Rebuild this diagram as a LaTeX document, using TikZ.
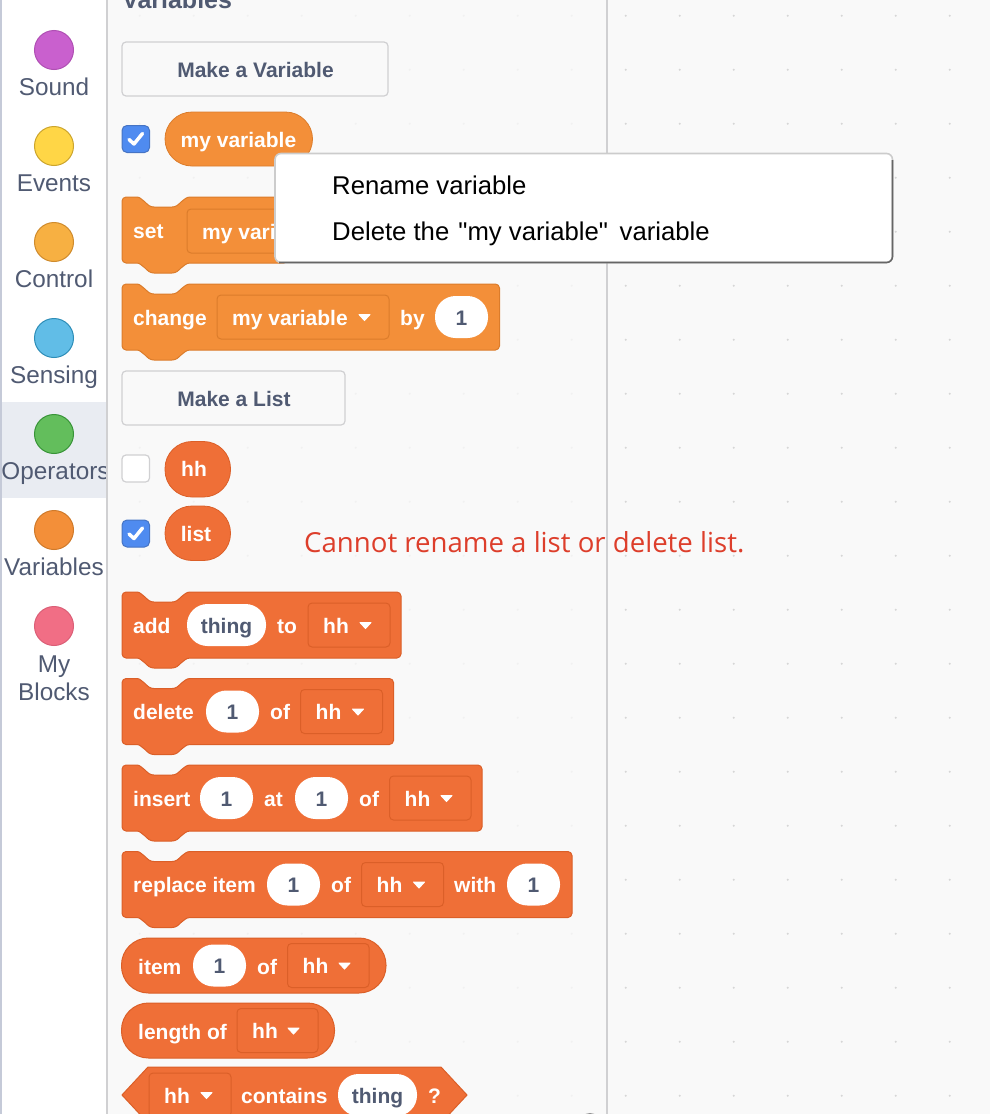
\documentclass[tikz,border=0pt]{standalone}
\usepackage{fontspec}
\setmainfont{Liberation Sans}
\newfontfamily\notefont{Open Sans}
\newfontfamily\menufont{Liberation Sans}
\definecolor{panelbg}{HTML}{F9F9F9}
\definecolor{rulegray}{HTML}{D0D0D2}
\definecolor{sideedge}{HTML}{C5CAD8}
\definecolor{selbg}{HTML}{E9ECF2}
\definecolor{inktext}{HTML}{505A72}
\definecolor{varfill}{HTML}{F38F39}
\definecolor{varline}{HTML}{DB7C2B}
\definecolor{listfill}{HTML}{EF6F37}
\definecolor{listline}{HTML}{DB5F28}
\definecolor{checkblue}{HTML}{4F8BF0}
\definecolor{checkline}{HTML}{4674C4}
\definecolor{redtext}{HTML}{DD3E2B}
\definecolor{gridgray}{HTML}{D6D6D6}
\definecolor{gridfaint}{HTML}{F1F1F1}
\definecolor{soundf}{HTML}{C960CE}
\definecolor{soundd}{HTML}{B050B4}
\definecolor{eventf}{HTML}{FFD646}
\definecolor{eventd}{HTML}{CCA52D}
\definecolor{ctrlf}{HTML}{F7B042}
\definecolor{ctrld}{HTML}{CF8B2D}
\definecolor{sensf}{HTML}{61BDE7}
\definecolor{sensd}{HTML}{2E8EB8}
\definecolor{operf}{HTML}{63BE5C}
\definecolor{operd}{HTML}{389438}
\definecolor{varsf}{HTML}{F38F39}
\definecolor{varsd}{HTML}{CF7A2B}
\definecolor{myblf}{HTML}{F16E85}
\definecolor{mybld}{HTML}{DB5F77}
\newcommand{\stackpath}[3]{% x, y, right
  (#1+4,#2) -- (#1+15,#2) .. controls (#1+18,#2) and (#1+20,#2+3) .. (#1+23,#2+5)
  .. controls (#1+26,#2+8) and (#1+28,#2+10) .. (#1+32,#2+10)
  -- (#1+50,#2+10) .. controls (#1+54,#2+10) and (#1+56,#2+8) .. (#1+59,#2+5)
  .. controls (#1+62,#2+3) and (#1+64,#2) .. (#1+68,#2)
  -- (#3-4,#2) .. controls (#3-2,#2) and (#3,#2+2) .. (#3,#2+4)
  -- (#3,#2+62) .. controls (#3,#2+64) and (#3-2,#2+66) .. (#3-4,#2+66)
  -- (#1+68,#2+66) .. controls (#1+64,#2+66) and (#1+62,#2+69) .. (#1+59,#2+71)
  .. controls (#1+56,#2+74) and (#1+54,#2+76) .. (#1+50,#2+76)
  -- (#1+32,#2+76) .. controls (#1+28,#2+76) and (#1+26,#2+74) .. (#1+23,#2+71)
  .. controls (#1+20,#2+69) and (#1+18,#2+66) .. (#1+15,#2+66)
  -- (#1+4,#2+66) .. controls (#1+2,#2+66) and (#1,#2+64) .. (#1,#2+62)
  -- (#1,#2+4) .. controls (#1,#2+2) and (#1+2,#2) .. (#1+4,#2) -- cycle}
\tikzset{
  x=1pt,y=-1pt,
  sidelabel/.style={font=\fontsize{24.3}{28}\selectfont,text=inktext,inner sep=0pt,anchor=base},
  sidedot/.style={circle,minimum size=39pt,inner sep=0pt,line width=1pt},
  bw/.style={font=\fontsize{21}{24}\bfseries\selectfont,text=white,inner sep=0pt,anchor=base west},
  bwc/.style={font=\fontsize{21}{24}\bfseries\selectfont,text=white,inner sep=0pt,anchor=base},
  ib/.style={font=\fontsize{21}{24}\bfseries\selectfont,text=inktext,inner sep=0pt,anchor=base},
  vstack/.style={fill=varfill,draw=varline,line width=1pt},
  lstack/.style={fill=listfill,draw=listline,line width=1pt},
  vdrop/.style={fill=varfill,draw=varline,line width=1pt,rounded corners=4pt},
  ldrop/.style={fill=listfill,draw=listline,line width=1pt,rounded corners=4pt},
  btn/.style={fill=panelbg,draw=rulegray,line width=1.2pt,rounded corners=4pt},
  tri/.style={fill=white,draw=white,line width=1pt,line join=round},
  griddot/.style={fill=gridgray},
  chk/.style={draw=white,line width=3.5pt,line cap=round,line join=round},
  checkon/.style={draw=checkline,fill=checkblue,line width=1pt,rounded corners=5pt},
  menutext/.style={font=\menufont\fontsize{25.7}{28}\selectfont,text=black,inner sep=0pt,anchor=base west}
}
\newcommand{\droptri}[2]{\draw[tri] (#1-30,#2-2.5) -- (#1-19,#2-2.5) -- (#1-24.5,#2+3.5) -- cycle;}
\newcommand{\drop}[4]{% x1, x2, ycentre, style
  \draw[#4] (#1,#3-22) rectangle (#2,#3+22);
  \node[bw] at (#1+15,#3+8) {hh};
  \droptri{#2}{#3}}
\newcommand{\inp}[4]{% x1,x2,yc,text
  \fill[white,rounded corners=20.5pt] (#1,#3-21) rectangle (#2,#3+21);
  \node[ib] at ({(#1+#2)/2},#3+8) {#4};}
\begin{document}
\begin{tikzpicture}
\useasboundingbox (0,0) rectangle (990,1114);
\fill[panelbg] (0,0) rectangle (990,1114);
\foreach \yy in {15.7,69.7,123.7,177.7,231.7,285.7,339.7,393.7,447.7,501.7,555.7,609.7,663.7,717.7,771.7,825.7,879.7,933.7,987.7,1041.7,1095.7}{
  \foreach \xx in {625.7,679.7,733.7,787.7,841.7,895.7,949.7}
    \fill[griddot] (\xx,\yy) circle (1.1pt);
  \foreach \xx in {139.7,193.7,247.7,301.7,355.7,409.7,463.7,517.7,571.7}
    \fill[gridfaint] (\xx,\yy) circle (1.1pt);
}
\fill[rulegray] (606,0) rectangle (608,1114);
\fill[rulegray!70!black] (590,1124) circle (11pt);
% sidebar
\fill[white] (0,0) rectangle (107,1114);
\fill[sideedge] (0,0) rectangle (2,1114);
\fill[selbg] (2,402) rectangle (106,498);
% categories
\node[sidedot,fill=soundf,draw=soundd] (c1) at (54,50) {};
\node[sidelabel] (t1) at (54,95.5) {Sound};
\node[sidedot,fill=eventf,draw=eventd] (c2) at (54,146) {};
\node[sidelabel] (t2) at (54,191.5) {Events};
\node[sidedot,fill=ctrlf,draw=ctrld] (c3) at (54,242) {};
\node[sidelabel] (t3) at (54,287.5) {Control};
\node[sidedot,fill=sensf,draw=sensd] (c4) at (54,338) {};
\node[sidelabel] (t4) at (54,383.5) {Sensing};
\node[sidedot,fill=operf,draw=operd] (c5) at (54,434) {};
\node[sidelabel] (t5) at (55.5,479.5) {Operators};
\node[sidedot,fill=varsf,draw=varsd] (c6) at (54,530) {};
\node[sidelabel] (t6) at (54,575.5) {Variables};
\node[sidedot,fill=myblf,draw=mybld] (c7) at (54,626) {};
\node[sidelabel] (t7) at (54,672.5) {My};
\node[sidelabel] (t8) at (54,700.5) {Blocks};
\fill[panelbg] (107.5,400) rectangle (121,500);
\fill[rulegray] (106,0) rectangle (108,1114);
% heading
\node[ib,font=\fontsize{25}{28}\bfseries\selectfont,anchor=base west] (head) at (122,8) {Variables};
% buttons
\draw[btn] (122,42) rectangle (388,96);
\node[ib] (mv) at (255.5,77.7) {Make a Variable};
\draw[btn] (122,371) rectangle (345,425);
\node[ib] (ml) at (234,406.7) {Make a List};
% my variable reporter
\draw[checkon] (122,125.5) rectangle (149.5,152.5);
\draw[chk] (129,139.5) -- (134,144) -- (142.5,133.5);
\draw[fill=varfill,draw=varline,line width=.8pt,rounded corners=27pt] (165,112) rectangle (312.5,166);
\node[bwc] at (238.5,147) {my variable};
% set
\draw[vstack] \stackpath{122}{197}{288};
\node[bw] at (133,238.3) {set};
\draw[vdrop] (187,209) rectangle (288,253);
\node[bw] at (202,239) {my variable};
% menu
\fill[white,draw=black!20,line width=1.6pt,rounded corners=6pt] (275,153.5) rectangle (892.5,262.5);
\draw[line width=1.6pt,draw=black!60,rounded corners=6pt] (279,262.5) -- (892.5,262.5) -- (892.5,160);
\node[menutext] at (332,194) {Rename variable};
\node[menutext] at (332,240) {Delete the\hspace{2pt} "my variable"\hspace{4.5pt} variable};
% change
\draw[vstack] \stackpath{122}{284}{499.5};
\node[bw] at (133,325) {change};
\draw[vdrop] (217,295) rectangle (389,339);
\node[bw] at (232,325) {my variable};
\droptri{389}{317}
\node[bw] at (400,325) {by};
\inp{435}{488}{317}{1}
% lists
\draw[btn,fill=white] (122,455) rectangle (149.5,482);
\draw[fill=listfill,draw=listline,line width=.8pt,rounded corners=27pt] (165,441.5) rectangle (230.5,497);
\node[bwc] at (194,476.7) {hh};
\draw[checkon] (122,520) rectangle (149.5,547);
\draw[chk] (129,534) -- (134,538.5) -- (142.5,528);
\draw[fill=listfill,draw=listline,line width=.8pt,rounded corners=27pt] (165,506) rectangle (230.5,560.5);
\node[bwc] at (196,541.7) {list};
% note
\node[inner sep=0pt,anchor=base west,text=redtext,font=\notefont\fontsize{27.6}{30}\selectfont] at (304,552.4) {Cannot rename a list or delete list.};
% add
\draw[lstack] \stackpath{122}{592}{401};
\node[bw] at (133,633) {add};
\inp{187}{266}{625}{thing}
\node[bw] at (277,633) {to};
\drop{308}{390}{625}{ldrop}
% delete
\draw[lstack] \stackpath{122}{678.5}{393.5};
\node[bw] at (133,719.5) {delete};
\inp{206}{259}{711.5}{1}
\node[bw] at (270,719.5) {of};
\drop{300.5}{382.5}{711.5}{ldrop}
% insert
\draw[lstack] \stackpath{122}{765}{482};
\node[bw] at (133,806) {insert};
\inp{200}{253}{798}{1}
\node[bw] at (264,806) {at};
\inp{295}{348}{798}{1}
\node[bw] at (359,806) {of};
\drop{389.5}{471}{798}{ldrop}
% replace
\draw[lstack] \stackpath{122}{851.5}{572};
\node[bw] at (133,892.7) {replace item};
\inp{267}{320}{884.5}{1}
\node[bw] at (331,892.7) {of};
\drop{361.5}{443.5}{884.5}{ldrop}
\node[bw] at (454,892.7) {with};
\inp{507}{560}{884.5}{1}
% item
\draw[fill=listfill,draw=listline,line width=1pt,rounded corners=27pt] (121.5,938) rectangle (386,993);
\node[bw] at (138,974) {item};
\inp{193}{246}{965.5}{1}
\node[bw] at (257,974) {of};
\drop{287.5}{369}{965.5}{ldrop}
% length
\draw[fill=listfill,draw=listline,line width=1pt,rounded corners=27pt] (121.5,1003) rectangle (334.5,1058);
\node[bw] at (138,1039) {length of};
\drop{237}{318}{1030.5}{ldrop}
% contains
\draw[lstack] (148,1067) -- (441,1067) -- (467,1095) -- (441,1123) -- (148,1123) -- (122,1095) -- cycle;
\drop{149}{231}{1095}{ldrop}
\node[bw] at (241,1103) {contains};
\inp{338}{417}{1095}{thing}
\node[bw] at (428,1103) {?};
\end{tikzpicture}
\end{document}
